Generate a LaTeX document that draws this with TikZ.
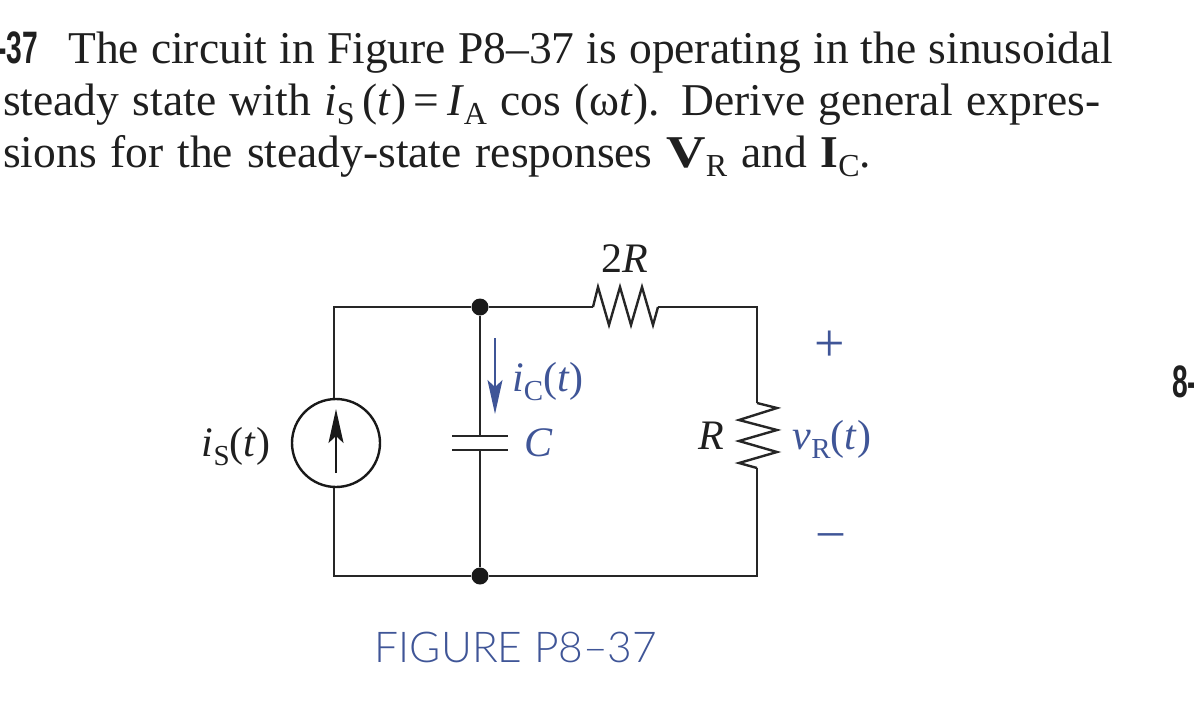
\documentclass[tikz,border=0pt]{standalone}
\usepackage{fontspec}
\setmainfont{Liberation Serif}
\newfontfamily\figfont{Lato Light}
\newfontfamily\headfont{Liberation Sans}
\usetikzlibrary{arrows.meta}
\definecolor{figblue}{HTML}{3F5597}
\newcommand{\subS}[1]{\raisebox{-0.22em}{\fontsize{29}{29}\selectfont #1}}
\newcommand{\subL}[1]{\raisebox{-0.2em}{\fontsize{32}{32}\selectfont #1}}
\newcommand{\headnum}[1]{\scalebox{0.62}[1]{\headfont\bfseries #1}}
\tikzset{
  wire/.style={line width=2.4pt,draw=black!85},
  joint/.style={circle,fill=black!90,inner sep=0pt,minimum size=17pt},
  source/.style={circle,draw=black!90,line width=2.4pt,inner sep=0pt,minimum size=88pt},
  para/.style={anchor=base west,inner sep=0pt,font=\fontsize{45.5}{45.5}\selectfont,text=black!88},
  lab/.style={anchor=base,inner sep=0pt,font=\fontsize{42}{42}\selectfont,text=black!88},
  bluelab/.style={lab,text=figblue}
}
\begin{document}
\begin{tikzpicture}[x=1pt,y=-1pt]
  \useasboundingbox (0,0) rectangle (1194,724);

  % PROBLEM TEXT
  \node[para] (num) at (-3,63) {\headnum{-37}};
  \node[para] (lineA) at (68,63) {\makebox[1045pt][s]{The circuit in Figure P8–37 is operating in the sinusoidal}};
  \node[para] (lineB) at (3,115) {\makebox[1097pt][s]{steady state with \textit{i}\subL{S}\,(\textit{t})\,=\,\textit{I}\subL{A} cos (ω\textit{t}). Derive general expres-}};
  \node[para] (lineC) at (3,167) {\makebox[868pt][s]{sions for the steady-state responses \scalebox{1.2}[1]{\textbf{V}}\subL{R} and \textbf{I}\subL{C}.}};
  \node[para] (side) at (1172,397) {\headnum{8-}};

  % CIRCUIT
  \coordinate (ctl) at (334,307);
  \coordinate (ctr) at (757,307);
  \coordinate (cbl) at (334,576);
  \coordinate (cbr) at (757,576);
  \node[joint] (top) at (480,307) {};
  \node[joint] (bot) at (480,576) {};
  \node[source] (src) at (336,443) {};
  \coordinate (capA) at (480,436);
  \coordinate (capB) at (480,450);
  \coordinate (resA) at (593,307);
  \coordinate (resB) at (658,307);
  \coordinate (resC) at (757,403);
  \coordinate (resD) at (757,468);

  \draw[wire,line join=miter] (src.north -| ctl) -- (ctl) -- (top) -- (resA);
  \draw[wire,line join=miter] (resB) -- (ctr) -- (resC);
  \draw[wire,line join=miter] (resD) -- (cbr) -- (bot) -- (cbl) -- (src.south -| cbl);
  \draw[wire] (top) -- (capA);
  \draw[wire] (capB) -- (bot);
  \draw[wire] (452,436) -- (508,436);
  \draw[wire] (452,450) -- (508,450);

  % resistors
  \draw[wire,line join=miter] (resA) -- (598,287) -- (609,325) -- (620,287) -- (631,325) -- (642,287) -- (653,325) -- (resB);
  \draw[wire,line join=miter] (resC) -- (777,408) -- (739,420) -- (777,430) -- (739,441) -- (777,452) -- (739,463) -- (resD);

  % arrows
  \coordinate (srcTip) at (336,409);
  \coordinate (srcEnd) at (336,473);
  \draw[line width=2.2pt,draw=black!90,-{Stealth[length=34pt,width=15pt,inset=7pt]}] (srcEnd) -- (srcTip);
  \coordinate (icTip) at (495,414);
  \coordinate (icEnd) at (495,338);
  \draw[line width=1.8pt,draw=figblue,-{Stealth[length=34pt,width=15pt,inset=7pt,fill=figblue]}] (icEnd) -- (icTip);

  % LABELS
  \node[lab] (lblR2) at (625,272) {2\textit{R}};
  \node[lab] (lblR) at (711,449) {\textit{R}};
  \node[lab] (lblIs) at (236,456) {\textit{i}\subS{S}(\textit{t})};
  \node[bluelab] (lblIc) at (548,391) {\textit{i}\subS{C}(\textit{t})};
  \node[bluelab] (lblC) at (539,456) {\textit{C}};
  \node[bluelab] (lblV) at (832,449) {\textit{v}\subS{R}(\textit{t})};
  \node[bluelab,font=\fontsize{54}{54}\selectfont] (lblPlus) at (830,361) {+};
  \node[bluelab,font=\fontsize{50}{50}\selectfont] (lblMinus) at (831,546) {–};
  \node[anchor=base,inner sep=0pt,font=\figfont\fontsize{42.5}{42.5}\selectfont,text=figblue] (caption) at (516,662) {FIGURE P8–37};
\end{tikzpicture}
\end{document}
